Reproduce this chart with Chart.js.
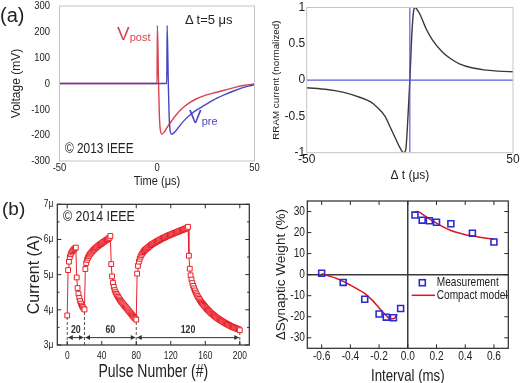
<!DOCTYPE html>
<html><head><meta charset="utf-8">
<script src="https://cdn.jsdelivr.net/npm/chart.js@4.4.1/dist/chart.umd.min.js"></script>
<style>
html,body{margin:0;padding:0;background:#fff}
body{width:520px;height:383px;overflow:hidden;position:relative;font-family:"Liberation Sans",Arial,sans-serif}
canvas{position:absolute}
.t{position:absolute;white-space:nowrap;line-height:1}
.sq{transform-origin:0 50%}
</style></head><body>
<canvas id="c1" width="260" height="190" style="left:0;top:0"></canvas>
<canvas id="c2" width="260" height="190" style="left:260px;top:0"></canvas>
<canvas id="c3" width="260" height="193" style="left:0;top:190px"></canvas>
<canvas id="c4" width="260" height="193" style="left:260px;top:190px"></canvas>

<div class="t" style="left:0;top:5px;font-size:20px;color:#222">(a)</div>
<div class="t" style="left:2px;top:199px;font-size:19px;color:#222">(b)</div>
<div class="t" style="left:185px;top:13px;font-size:13px;color:#222">&Delta; t=5 &mu;s</div>
<div class="t" style="left:117px;top:24px;font-size:19px;color:#d9434f"><span>V</span><span style="font-size:11px;position:relative;top:1px">post</span></div>
<div class="t" style="left:189px;top:107px;font-size:19px;color:#4646c0"><span>V</span><span style="font-size:11px;position:relative;top:2px">pre</span></div>
<div class="t sq" style="left:65px;top:140px;font-size:15px;color:#222;transform:scaleX(0.79)">&copy; 2013 IEEE</div>
<div class="t sq" style="left:63px;top:208px;font-size:15.5px;color:#222;transform:scaleX(0.8)">&copy; 2014 IEEE</div>

<script>
// ================= DATA =================
// (a) left: spike waveforms, time (us) / voltage (mV)
const vpostTime = [-50, 0, 0.2, 0.8, 1.2, 1.7, 2.5, 3.5, 5, 7, 10, 13, 16, 20, 25, 30, 35, 40, 45, 50];
const vpostVolt = [0, 0, 225, 0, -120, -180, -196, -190, -172, -150, -120, -96, -78, -60, -45, -35, -25, -15, -7, -2];
const vpreTime  = [-50, 5, 5.2, 5.8, 6.2, 6.7, 7.5, 8.5, 10, 12, 15, 18, 22, 26, 31, 35, 40, 45, 50];
const vpreVolt  = [0, 0, 225, 0, -120, -180, -196, -192, -180, -160, -135, -115, -95, -77, -56, -42, -27, -14, -5];
const aTimeTicks = [-50, 0, 50];
const aVoltTicks = [-300, -200, -100, 0, 100, 200, 300];

// (a) right: normalized RRAM current vs delta t (us)
const dtValues    = [-50, -40, -32, -24, -19, -16, -12, -9.5, -7, -5, -3, -2, -1, 0, 1, 2, 2.6, 3.5, 5, 8, 11, 16, 20, 24, 30, 35, 40, 45, 50];
const rramCurrent = [-0.105, -0.13, -0.17, -0.24, -0.3, -0.37, -0.5, -0.65, -0.8, -0.92, -1.0, -0.96, -0.55, 0, 0.65, 0.98, 1.0, 0.97, 0.9, 0.7, 0.55, 0.38, 0.29, 0.225, 0.17, 0.145, 0.13, 0.12, 0.115];
const zeroLineDt  = [-50, 50];
const zeroLineI   = [0, 0];
const vertLineDt  = [0, 0];
const vertLineI   = [-1, 1];
const dtTicks   = [-50, 50];
const rramTicks = [-1, -0.5, 0, 0.5, 1];

// (b) left: current (uA) for pulse numbers 0..200
const pulseCurrent = [
  3.84,
  5.13, 5.37, 5.5, 5.58, 5.63, 5.67, 5.7, 5.73, 5.75, 5.77,
  4.92, 4.62, 4.46, 4.34, 4.25, 4.18, 4.12, 4.08, 4.04, 4.01,
  5.16, 5.33, 5.42, 5.48, 5.53, 5.57, 5.6, 5.63, 5.66, 5.69,
  5.71, 5.74, 5.76, 5.78, 5.8, 5.82, 5.84, 5.86, 5.87, 5.89,
  5.91, 5.93, 5.94, 5.96, 5.98, 5.99, 6.01, 6.03, 6.05, 6.1,
  5.3, 4.95, 4.77, 4.65, 4.56, 4.5, 4.45, 4.41, 4.37, 4.33,
  4.29, 4.25, 4.22, 4.19, 4.16, 4.13, 4.1, 4.07, 4.04, 4.01,
  3.98, 3.95, 3.92, 3.89, 3.86, 3.83, 3.8, 3.77, 3.75, 3.72,
  5.03, 5.25, 5.37, 5.45, 5.51, 5.56, 5.6, 5.64, 5.67, 5.7,
  5.72, 5.74, 5.76, 5.78, 5.8, 5.82, 5.84, 5.86, 5.87, 5.89,
  5.9, 5.92, 5.93, 5.95, 5.96, 5.97, 5.99, 6.0, 6.01, 6.03,
  6.04, 6.05, 6.06, 6.07, 6.09, 6.1, 6.11, 6.12, 6.13, 6.14,
  6.15, 6.16, 6.17, 6.18, 6.19, 6.2, 6.21, 6.22, 6.23, 6.24,
  6.25, 6.26, 6.27, 6.28, 6.29, 6.3, 6.31, 6.32, 6.33, 6.36,
  5.54, 5.17, 4.98, 4.86, 4.76, 4.68, 4.61, 4.55, 4.49, 4.44,
  4.39, 4.35, 4.31, 4.27, 4.23, 4.2, 4.17, 4.14, 4.11, 4.08,
  4.05, 4.02, 4.0, 3.97, 3.95, 3.92, 3.9, 3.88, 3.86, 3.84,
  3.82, 3.8, 3.78, 3.76, 3.75, 3.73, 3.71, 3.7, 3.68, 3.67,
  3.65, 3.64, 3.62, 3.61, 3.6, 3.58, 3.57, 3.56, 3.54, 3.53,
  3.52, 3.51, 3.5, 3.49, 3.48, 3.47, 3.46, 3.45, 3.44, 3.42
];
const markerPulses = [0, 20, 80, 200];
const spanStarts = [0, 20, 80];
const spanEnds   = [20, 80, 200];
const spanLabels = ['20', '60', '120'];
const pulseTicks = [0, 20, 40, 60, 80, 100, 120, 140, 160, 180, 200];
const currentTicks = [3, 4, 5, 6, 7];

// (b) right: STDP
const measInterval = [-0.6, -0.45, -0.3, -0.2, -0.15, -0.1, -0.05, 0.05, 0.1, 0.15, 0.2, 0.3, 0.45, 0.6];
const measWeight   = [0.7, -3.7, -11.7, -18.7, -20.2, -20.5, -16.1, 28.3, 25.9, 25.6, 24.9, 24.2, 19.7, 15.5];
const modelIntervalNeg = [-0.6, -0.55, -0.5, -0.45, -0.4, -0.35, -0.3, -0.25, -0.2, -0.15, -0.12, -0.1, -0.085, -0.075];
const modelWeightNeg   = [0.5, -0.6, -1.7, -3.2, -5.0, -6.9, -8.9, -12, -15.8, -19.5, -21, -21, -20, -18.7];
const modelIntervalPos = [0.05, 0.07, 0.1, 0.15, 0.2, 0.25, 0.3, 0.35, 0.4, 0.45, 0.5, 0.55, 0.6];
const modelWeightPos   = [29.8, 30, 28.8, 26.5, 24.5, 22.6, 21, 19.9, 19, 18.4, 17.8, 17.3, 16.9];
const intervalTicks = [-0.6, -0.4, -0.2, 0, 0.2, 0.4, 0.6];
const weightTicks = [-30, -20, -10, 0, 10, 20, 30];
const legendLabels = ['Measurement', 'Compact model'];

// ================= RENDER =================
const REG = '"Liberation Sans", Arial, sans-serif';
const pts = (xs, ys) => xs.map((x, i) => ({x: x, y: ys[i]}));
const setTicks = vals => s => { s.ticks = vals.map(v => ({value: v})); };
const fitX = h => s => { s.height = h; s.paddingLeft = 0; s.paddingRight = 0; };
const fitY = w => s => { s.width = w; s.paddingTop = 0; s.paddingBottom = 0; };
const F = size => ({family: REG, size: size});
const hidden = {display: false, drawTicks: false};

// horizontally condensed lettering (the figure's horizontal text is narrow); rotated text untouched
function condense(canvas, k) {
  const ctx = canvas.getContext('2d');
  const orig = ctx.fillText;
  ctx.fillText = function (text, x, y, maxWidth) {
    const m = this.getTransform();
    if (k === 1 || Math.abs(m.b) > 0.01) {
      return maxWidth === undefined ? orig.call(this, text, x, y) : orig.call(this, text, x, y, maxWidth);
    }
    this.save();
    this.translate(x, y);
    this.scale(k, 1);
    if (maxWidth === undefined) orig.call(this, text, 0, 0); else orig.call(this, text, 0, 0, maxWidth / k);
    this.restore();
  };
  return canvas;
}

const inFrame = {
  id: 'inFrame',
  afterDatasetsDraw(chart, args, o) {
    if (!o || !o.color) return;
    const {ctx, chartArea: a, scales} = chart;
    ctx.save();
    if (o.tickLen) {
      ctx.strokeStyle = o.color; ctx.lineWidth = o.tickWidth || 1;
      ctx.beginPath();
      const doAxis = (scale, horiz, minor) => {
        const vals = scale.ticks.map(t => t.value);
        const all = [];
        vals.forEach((v, i) => {
          all.push([v, o.tickLen]);
          if (minor && i < vals.length - 1) all.push([(v + vals[i + 1]) / 2, o.tickLen * 0.55]);
        });
        all.forEach(([v, len]) => {
          const p = scale.getPixelForValue(v);
          if (horiz) {
            ctx.moveTo(p, a.bottom); ctx.lineTo(p, a.bottom - len);
            if (o.mirror) { ctx.moveTo(p, a.top); ctx.lineTo(p, a.top + len); }
          } else {
            ctx.moveTo(a.left, p); ctx.lineTo(a.left + len, p);
            if (o.mirror) { ctx.moveTo(a.right, p); ctx.lineTo(a.right - len, p); }
          }
        });
      };
      doAxis(scales.x, true, o.xMinor); doAxis(scales.y, false, o.yMinor);
      ctx.stroke();
    }
    ctx.strokeStyle = o.color; ctx.lineWidth = o.width;
    ctx.strokeRect(a.left, a.top, a.right - a.left, a.bottom - a.top);
    ctx.restore();
  }
};

const spanArrows = {
  id: 'spanArrows',
  afterDatasetsDraw(chart, args, o) {
    if (!o || !o.starts) return;
    const {ctx, scales: {x, y}} = chart;
    ctx.save();
    ctx.strokeStyle = o.color; ctx.fillStyle = o.color; ctx.lineWidth = 1;
    const py = y.getPixelForValue(o.arrowAt);
    const ly = y.getPixelForValue(o.labelAt);
    ctx.font = o.font; ctx.textAlign = 'center'; ctx.textBaseline = 'middle';
    o.starts.forEach((s, i) => {
      const e = o.ends[i];
      const xa = x.getPixelForValue(s) + 1, xb = x.getPixelForValue(e) - 1;
      ctx.beginPath(); ctx.moveTo(xa, py); ctx.lineTo(xb, py); ctx.stroke();
      ctx.beginPath(); ctx.moveTo(xa, py); ctx.lineTo(xa + 4.5, py - 2.5); ctx.lineTo(xa + 4.5, py + 2.5); ctx.closePath(); ctx.fill();
      ctx.beginPath(); ctx.moveTo(xb, py); ctx.lineTo(xb - 4.5, py - 2.5); ctx.lineTo(xb - 4.5, py + 2.5); ctx.closePath(); ctx.fill();
      ctx.fillText(o.labels[i], x.getPixelForValue((s + e) / 2), ly);
    });
    ctx.restore();
  }
};

const boxLegend = {
  id: 'boxLegend',
  afterDatasetsDraw(chart, args, o) {
    if (!o || !o.labels) return;
    const {ctx} = chart;
    const ds0 = chart.data.datasets[0], ds1 = chart.data.datasets[1];
    ctx.save();
    ctx.font = o.font; ctx.fillStyle = '#222'; ctx.textBaseline = 'middle'; ctx.textAlign = 'left';
    ctx.strokeStyle = ds0.pointBorderColor; ctx.lineWidth = ds0.pointBorderWidth;
    ctx.strokeRect(o.markX - 3, o.row1 - 3, 6, 6);
    ctx.fillText(o.labels[0], o.textX, o.row1);
    ctx.strokeStyle = ds1.borderColor; ctx.lineWidth = ds1.borderWidth;
    ctx.beginPath(); ctx.moveTo(o.lineX0, o.row2); ctx.lineTo(o.lineX1, o.row2); ctx.stroke();
    ctx.fillText(o.labels[1], o.textX, o.row2);
    ctx.restore();
  }
};
Chart.register(inFrame, spanArrows, boxLegend);

const base = {responsive: false, animation: false, devicePixelRatio: 1};
const noPlug = {legend: {display: false}, tooltip: {enabled: false}};

// ---- (a) left
new Chart(condense(document.getElementById('c1'), 0.82), {
  type: 'line',
  data: {datasets: [
    {data: pts(vpreTime, vpreVolt), borderColor: '#4646c0', borderWidth: 1.4, pointRadius: 0, cubicInterpolationMode: 'monotone'},
    {data: pts(vpostTime, vpostVolt), borderColor: '#d9434f', borderWidth: 1.4, pointRadius: 0, cubicInterpolationMode: 'monotone'}
  ]},
  options: Object.assign({}, base, {
    layout: {padding: {left: 0, right: 5.5, top: 6, bottom: 0}},
    plugins: Object.assign({}, noPlug, {inFrame: {color: '#c4c4c4', width: 1}}),
    scales: {
      x: {type: 'linear', min: -50, max: 50, afterBuildTicks: setTicks(aTimeTicks), afterFit: fitX(29),
          grid: hidden, border: {display: false},
          ticks: {font: F(11.5), color: '#222', padding: 0, maxRotation: 0},
          title: {display: true, text: 'Time (\u03bcs)', font: F(13.5), color: '#222', padding: {top: 0, bottom: 1}}},
      y: {type: 'linear', min: -300, max: 300, afterBuildTicks: setTicks(aVoltTicks), afterFit: fitY(59.5),
          grid: hidden, border: {display: false},
          ticks: {font: F(11.5), color: '#222', padding: 9.5},
          title: {display: true, text: 'Voltage (mV)', font: F(12), color: '#222', padding: {top: 9.8, bottom: 0}}}
    }
  })
});

// ---- (a) right
new Chart(condense(document.getElementById('c2'), 1), {
  type: 'line',
  data: {datasets: [
    {data: pts(vertLineDt, vertLineI), borderColor: '#4c4cdc', borderWidth: 1.1, pointRadius: 0},
    {data: pts(zeroLineDt, zeroLineI), borderColor: '#5a5ae0', borderWidth: 1.1, pointRadius: 0},
    {data: pts(dtValues, rramCurrent), borderColor: '#3a3a3a', borderWidth: 1.4, pointRadius: 0, cubicInterpolationMode: 'monotone'}
  ]},
  options: Object.assign({}, base, {
    layout: {padding: {left: 0, right: 7, top: 7.5, bottom: 0}},
    plugins: Object.assign({}, noPlug, {inFrame: {color: '#c4c4c4', width: 1}}),
    scales: {
      x: {type: 'linear', min: -50, max: 50, afterBuildTicks: setTicks(dtTicks), afterFit: fitX(37.3),
          grid: hidden, border: {display: false},
          ticks: {font: F(12), color: '#222', padding: 0, maxRotation: 0},
          title: {display: true, text: '\u0394 t (\u03bcs)', font: F(12), color: '#222', padding: {top: 0, bottom: 6.8}}},
      y: {type: 'linear', min: -1, max: 1, afterBuildTicks: setTicks(rramTicks), afterFit: fitY(46.7),
          grid: hidden, border: {display: false},
          ticks: {font: F(12), color: '#222', padding: 1.5, callback: v => String(v)},
          title: {display: true, text: 'RRAM current (normalized)', font: F(9.8), color: '#222', padding: {top: 10.8, bottom: 0}}}
    }
  })
});

// ---- (b) left
const guideSets = markerPulses.map(p => ({
  data: [{x: p, y: 3}, {x: p, y: pulseCurrent[p]}],
  borderColor: '#555', borderWidth: 1, borderDash: [3, 2], pointRadius: 0
}));
new Chart(condense(document.getElementById('c3'), 0.8), {
  type: 'line',
  data: {datasets: [
    {data: pulseCurrent.map((v, i) => ({x: i, y: v})), borderColor: '#e8202a', borderWidth: 1,
     pointStyle: 'rect', pointRadius: 3.4, pointBorderWidth: 1, pointBorderColor: '#e8202a', pointBackgroundColor: '#fff'}
  ].concat(guideSets)},
  options: Object.assign({}, base, {
    layout: {padding: {left: 0, right: 10.7, top: 14.3, bottom: 0}},
    plugins: Object.assign({}, noPlug, {
      inFrame: {color: '#2a2a2a', width: 1.2, tickLen: 4, tickWidth: 1, mirror: true, yMinor: true},
      spanArrows: {starts: spanStarts, ends: spanEnds, labels: spanLabels, arrowAt: 3.21, labelAt: 3.43, color: '#333', font: 'bold 11px ' + REG}
    }),
    scales: {
      x: {type: 'linear', min: -11.5, max: 211, afterBuildTicks: setTicks(pulseTicks), afterFit: fitX(38),
          grid: hidden, border: {display: false},
          ticks: {font: F(10.5), color: '#222', padding: 4.4, maxRotation: 0},
          title: {display: true, text: 'Pulse Number (#)', font: F(17.5), color: '#222', padding: {top: 0, bottom: 0}}},
      y: {type: 'linear', min: 3, max: 7, afterBuildTicks: setTicks(currentTicks), afterFit: fitY(57.3),
          grid: hidden, border: {display: false},
          ticks: {font: F(10.5), color: '#222', padding: 4, callback: v => v + '\u03bc'},
          title: {display: true, text: 'Current (A)', font: F(16), color: '#222', padding: {top: 25.4, bottom: 0}}}
    }
  })
});

// ---- (b) right
const zeroGrid = c => (c.tick && c.tick.value === 0) ? '#3a3a3a' : 'rgba(0,0,0,0)';
new Chart(condense(document.getElementById('c4'), 0.78), {
  type: 'line',
  data: {datasets: [
    {data: pts(measInterval, measWeight), showLine: false, pointStyle: 'rect', pointRadius: 4.2,
     pointBorderWidth: 1.6, pointBorderColor: '#2b2bd0', pointBackgroundColor: 'rgba(0,0,0,0)', borderColor: '#2b2bd0'},
    {data: pts(modelIntervalNeg, modelWeightNeg), borderColor: '#e0141e', borderWidth: 1.5, pointRadius: 0, cubicInterpolationMode: 'monotone'},
    {data: pts(modelIntervalPos, modelWeightPos), borderColor: '#e0141e', borderWidth: 1.5, pointRadius: 0, cubicInterpolationMode: 'monotone'}
  ]},
  options: Object.assign({}, base, {
    layout: {padding: {left: 0, right: 11.7, top: 11, bottom: 0}},
    plugins: Object.assign({}, noPlug, {
      inFrame: {color: '#2a2a2a', width: 1.2, tickLen: 4, tickWidth: 1, mirror: true},
      boxLegend: {labels: legendLabels, font: '13px ' + REG, markX: 162.3, textX: 176.7, row1: 92.7, row2: 105.3, lineX0: 151.7, lineX1: 175}
    }),
    scales: {
      x: {type: 'linear', min: -0.7, max: 0.7, afterBuildTicks: setTicks(intervalTicks), afterFit: fitX(34.7),
          grid: {display: true, drawTicks: false, color: zeroGrid, lineWidth: 1.5}, border: {display: false},
          ticks: {font: F(13), color: '#222', padding: 0.6, maxRotation: 0, callback: v => v.toFixed(1)},
          title: {display: true, text: 'Interval (ms)', font: F(17), color: '#222', padding: {top: 0, bottom: -3.7}}},
      y: {type: 'linear', min: -35, max: 35, afterBuildTicks: setTicks(weightTicks), afterFit: fitY(47.3),
          grid: {display: true, drawTicks: false, color: zeroGrid, lineWidth: 1.5}, border: {display: false},
          ticks: {font: F(13), color: '#222', padding: 2.3},
          title: {display: true, text: '\u0394Synaptic Weight (%)', font: F(13.5), color: '#222', padding: {top: 13.3, bottom: 0}}}
    }
  })
});
</script>
</body></html>
